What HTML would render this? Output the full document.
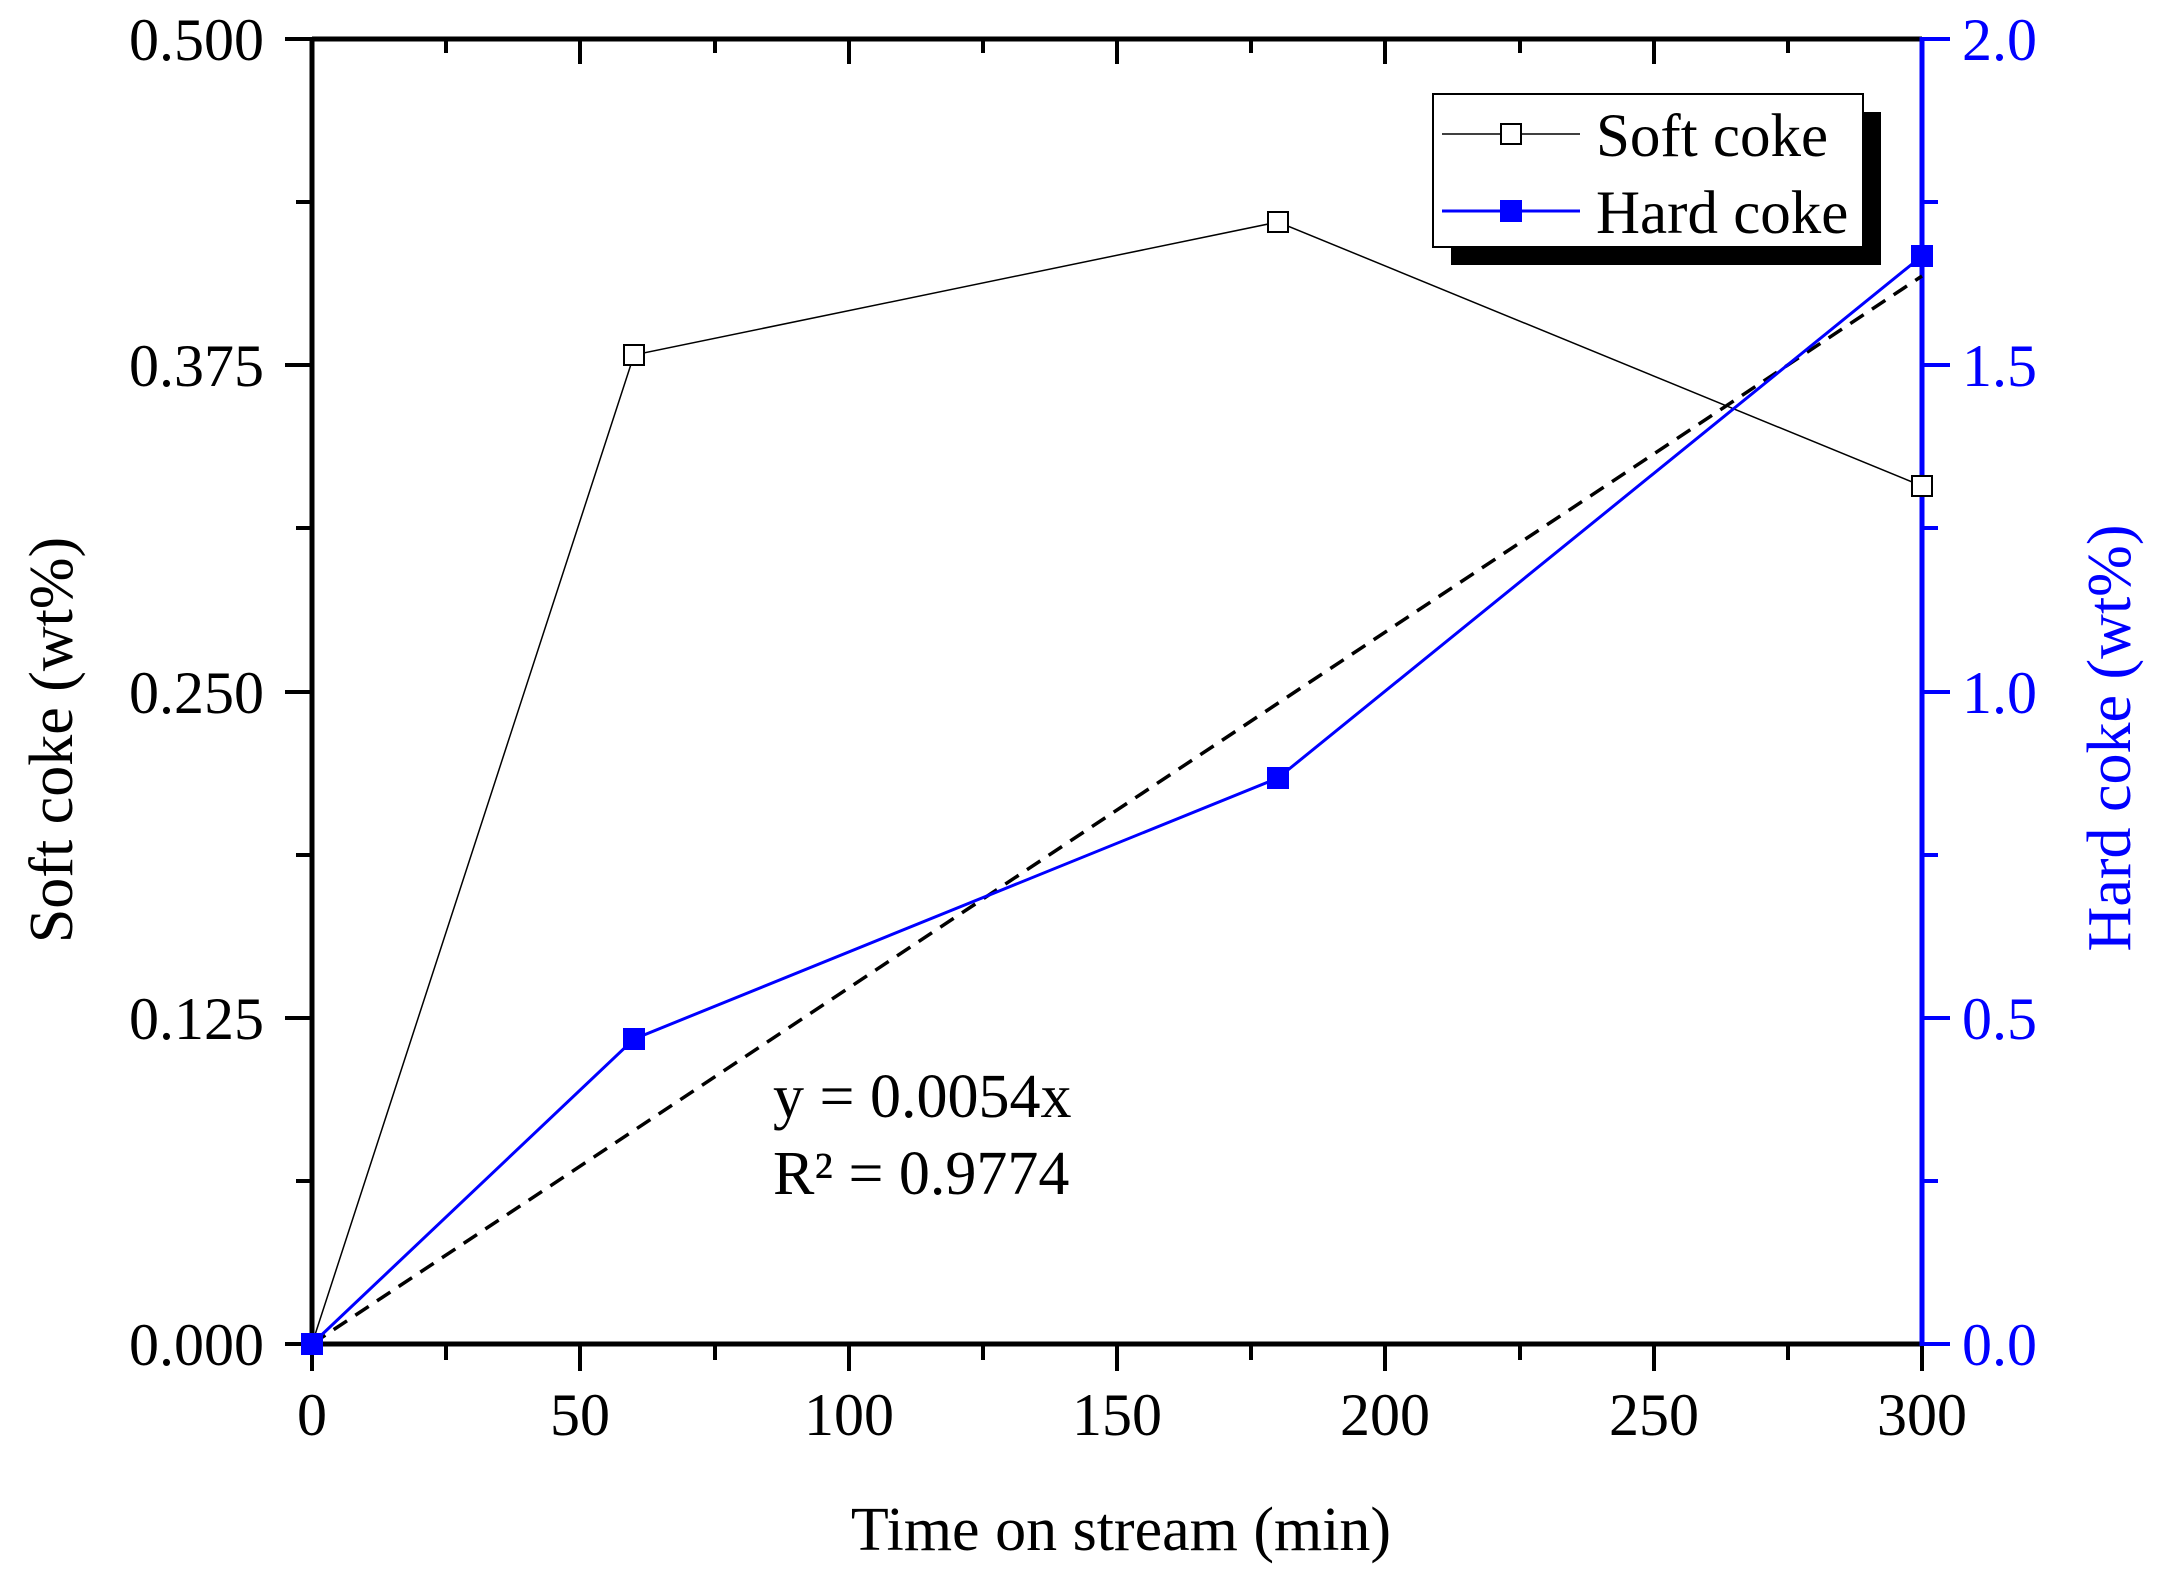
<!DOCTYPE html>
<html><head><meta charset="utf-8"><style>
html,body{margin:0;padding:0;background:#fff;}
svg{display:block;}
text{font-family:"Liberation Serif",serif;}
</style></head><body>
<svg width="2159" height="1572" viewBox="0 0 2159 1572" xmlns="http://www.w3.org/2000/svg">
<rect width="2159" height="1572" fill="#fff"/>
<g stroke="#000" stroke-width="4">
<line x1="446" y1="39" x2="446" y2="53"/><line x1="580" y1="39" x2="580" y2="64"/>
<line x1="715" y1="39" x2="715" y2="53"/><line x1="849" y1="39" x2="849" y2="64"/>
<line x1="983" y1="39" x2="983" y2="53"/><line x1="1117" y1="39" x2="1117" y2="64"/>
<line x1="1251" y1="39" x2="1251" y2="53"/><line x1="1385" y1="39" x2="1385" y2="64"/>
<line x1="1520" y1="39" x2="1520" y2="53"/><line x1="1654" y1="39" x2="1654" y2="64"/>
<line x1="1788" y1="39" x2="1788" y2="53"/>
</g>
<g stroke="#000" stroke-width="4">
<line x1="312" y1="1344" x2="312" y2="1371"/><line x1="446" y1="1344" x2="446" y2="1360"/>
<line x1="580" y1="1344" x2="580" y2="1371"/><line x1="715" y1="1344" x2="715" y2="1360"/>
<line x1="849" y1="1344" x2="849" y2="1371"/><line x1="983" y1="1344" x2="983" y2="1360"/>
<line x1="1117" y1="1344" x2="1117" y2="1371"/><line x1="1251" y1="1344" x2="1251" y2="1360"/>
<line x1="1385" y1="1344" x2="1385" y2="1371"/><line x1="1520" y1="1344" x2="1520" y2="1360"/>
<line x1="1654" y1="1344" x2="1654" y2="1371"/><line x1="1788" y1="1344" x2="1788" y2="1360"/>
<line x1="1922" y1="1344" x2="1922" y2="1371"/>
</g>
<g stroke="#000" stroke-width="4">
<line x1="285" y1="39" x2="312" y2="39"/><line x1="296" y1="202" x2="312" y2="202"/>
<line x1="285" y1="365" x2="312" y2="365"/><line x1="296" y1="528" x2="312" y2="528"/>
<line x1="285" y1="692" x2="312" y2="692"/><line x1="296" y1="855" x2="312" y2="855"/>
<line x1="285" y1="1018" x2="312" y2="1018"/><line x1="296" y1="1181" x2="312" y2="1181"/>
<line x1="285" y1="1344" x2="312" y2="1344"/>
</g>
<line x1="312" y1="39" x2="1922" y2="39" stroke="#000" stroke-width="5"/>
<line x1="312" y1="37" x2="312" y2="1346" stroke="#000" stroke-width="5"/>
<line x1="310" y1="1344" x2="1922" y2="1344" stroke="#000" stroke-width="5"/>
<g stroke="#0000ff" stroke-width="4">
<line x1="1922" y1="39" x2="1950" y2="39"/><line x1="1922" y1="202" x2="1938" y2="202"/>
<line x1="1922" y1="365" x2="1950" y2="365"/><line x1="1922" y1="528" x2="1938" y2="528"/>
<line x1="1922" y1="692" x2="1950" y2="692"/><line x1="1922" y1="855" x2="1938" y2="855"/>
<line x1="1922" y1="1018" x2="1950" y2="1018"/><line x1="1922" y1="1181" x2="1938" y2="1181"/>
<line x1="1922" y1="1344" x2="1950" y2="1344"/>
</g>
<line x1="1922" y1="37" x2="1922" y2="1346" stroke="#0000ff" stroke-width="5"/>
<g font-size="60" text-anchor="end" fill="#000">
<text x="264" y="60">0.500</text><text x="264" y="386">0.375</text>
<text x="264" y="713">0.250</text><text x="264" y="1039">0.125</text>
<text x="264" y="1365">0.000</text>
</g>
<g font-size="60" text-anchor="start" fill="#0000ff">
<text x="1962" y="60">2.0</text><text x="1962" y="386">1.5</text>
<text x="1962" y="713">1.0</text><text x="1962" y="1039">0.5</text>
<text x="1962" y="1365">0.0</text>
</g>
<g font-size="60" text-anchor="middle" fill="#000">
<text x="312" y="1435">0</text><text x="580" y="1435">50</text><text x="849" y="1435">100</text>
<text x="1117" y="1435">150</text><text x="1385" y="1435">200</text><text x="1654" y="1435">250</text>
<text x="1922" y="1435">300</text>
</g>
<text x="1121" y="1550" font-size="62" text-anchor="middle">Time on stream (min)</text>
<text transform="translate(72,740) rotate(-90)" font-size="62" text-anchor="middle">Soft coke (wt%)</text>
<text transform="translate(2130,738) rotate(-90)" font-size="62" text-anchor="middle" fill="#0000ff">Hard coke (wt%)</text>
<line x1="312" y1="1344" x2="1922" y2="276" stroke="#000" stroke-width="3.5" stroke-dasharray="16,10"/>
<polyline points="312,1344 634,355 1278,222 1922,486" fill="none" stroke="#000" stroke-width="1.5"/>
<g fill="#fff" stroke="#000" stroke-width="2">
<rect x="302" y="1334" width="20" height="20"/><rect x="624" y="345" width="20" height="20"/>
<rect x="1268" y="212" width="20" height="20"/><rect x="1912" y="476" width="20" height="20"/>
</g>
<polyline points="312,1344 634,1039 1278,778 1922,256" fill="none" stroke="#0000ff" stroke-width="3"/>
<g fill="#0000ff">
<rect x="301" y="1333" width="22" height="22"/><rect x="623" y="1028" width="22" height="22"/>
<rect x="1267" y="767" width="22" height="22"/><rect x="1911" y="245" width="22" height="22"/>
</g>
<text x="773" y="1117" font-size="62">y = 0.0054x</text>
<text x="773" y="1194" font-size="62">R² = 0.9774</text>
<rect x="1451" y="112" width="430" height="153" fill="#000"/>
<rect x="1433" y="94" width="430" height="153" fill="#fff" stroke="#000" stroke-width="2"/>
<line x1="1442" y1="134" x2="1580" y2="134" stroke="#000" stroke-width="1.5"/>
<rect x="1501" y="124" width="20" height="20" fill="#fff" stroke="#000" stroke-width="2"/>
<line x1="1442" y1="211" x2="1580" y2="211" stroke="#0000ff" stroke-width="3"/>
<rect x="1500" y="200" width="22" height="22" fill="#0000ff"/>
<text x="1596" y="156" font-size="61">Soft coke</text>
<text x="1596" y="233" font-size="61">Hard coke</text>
</svg>
</body></html>
